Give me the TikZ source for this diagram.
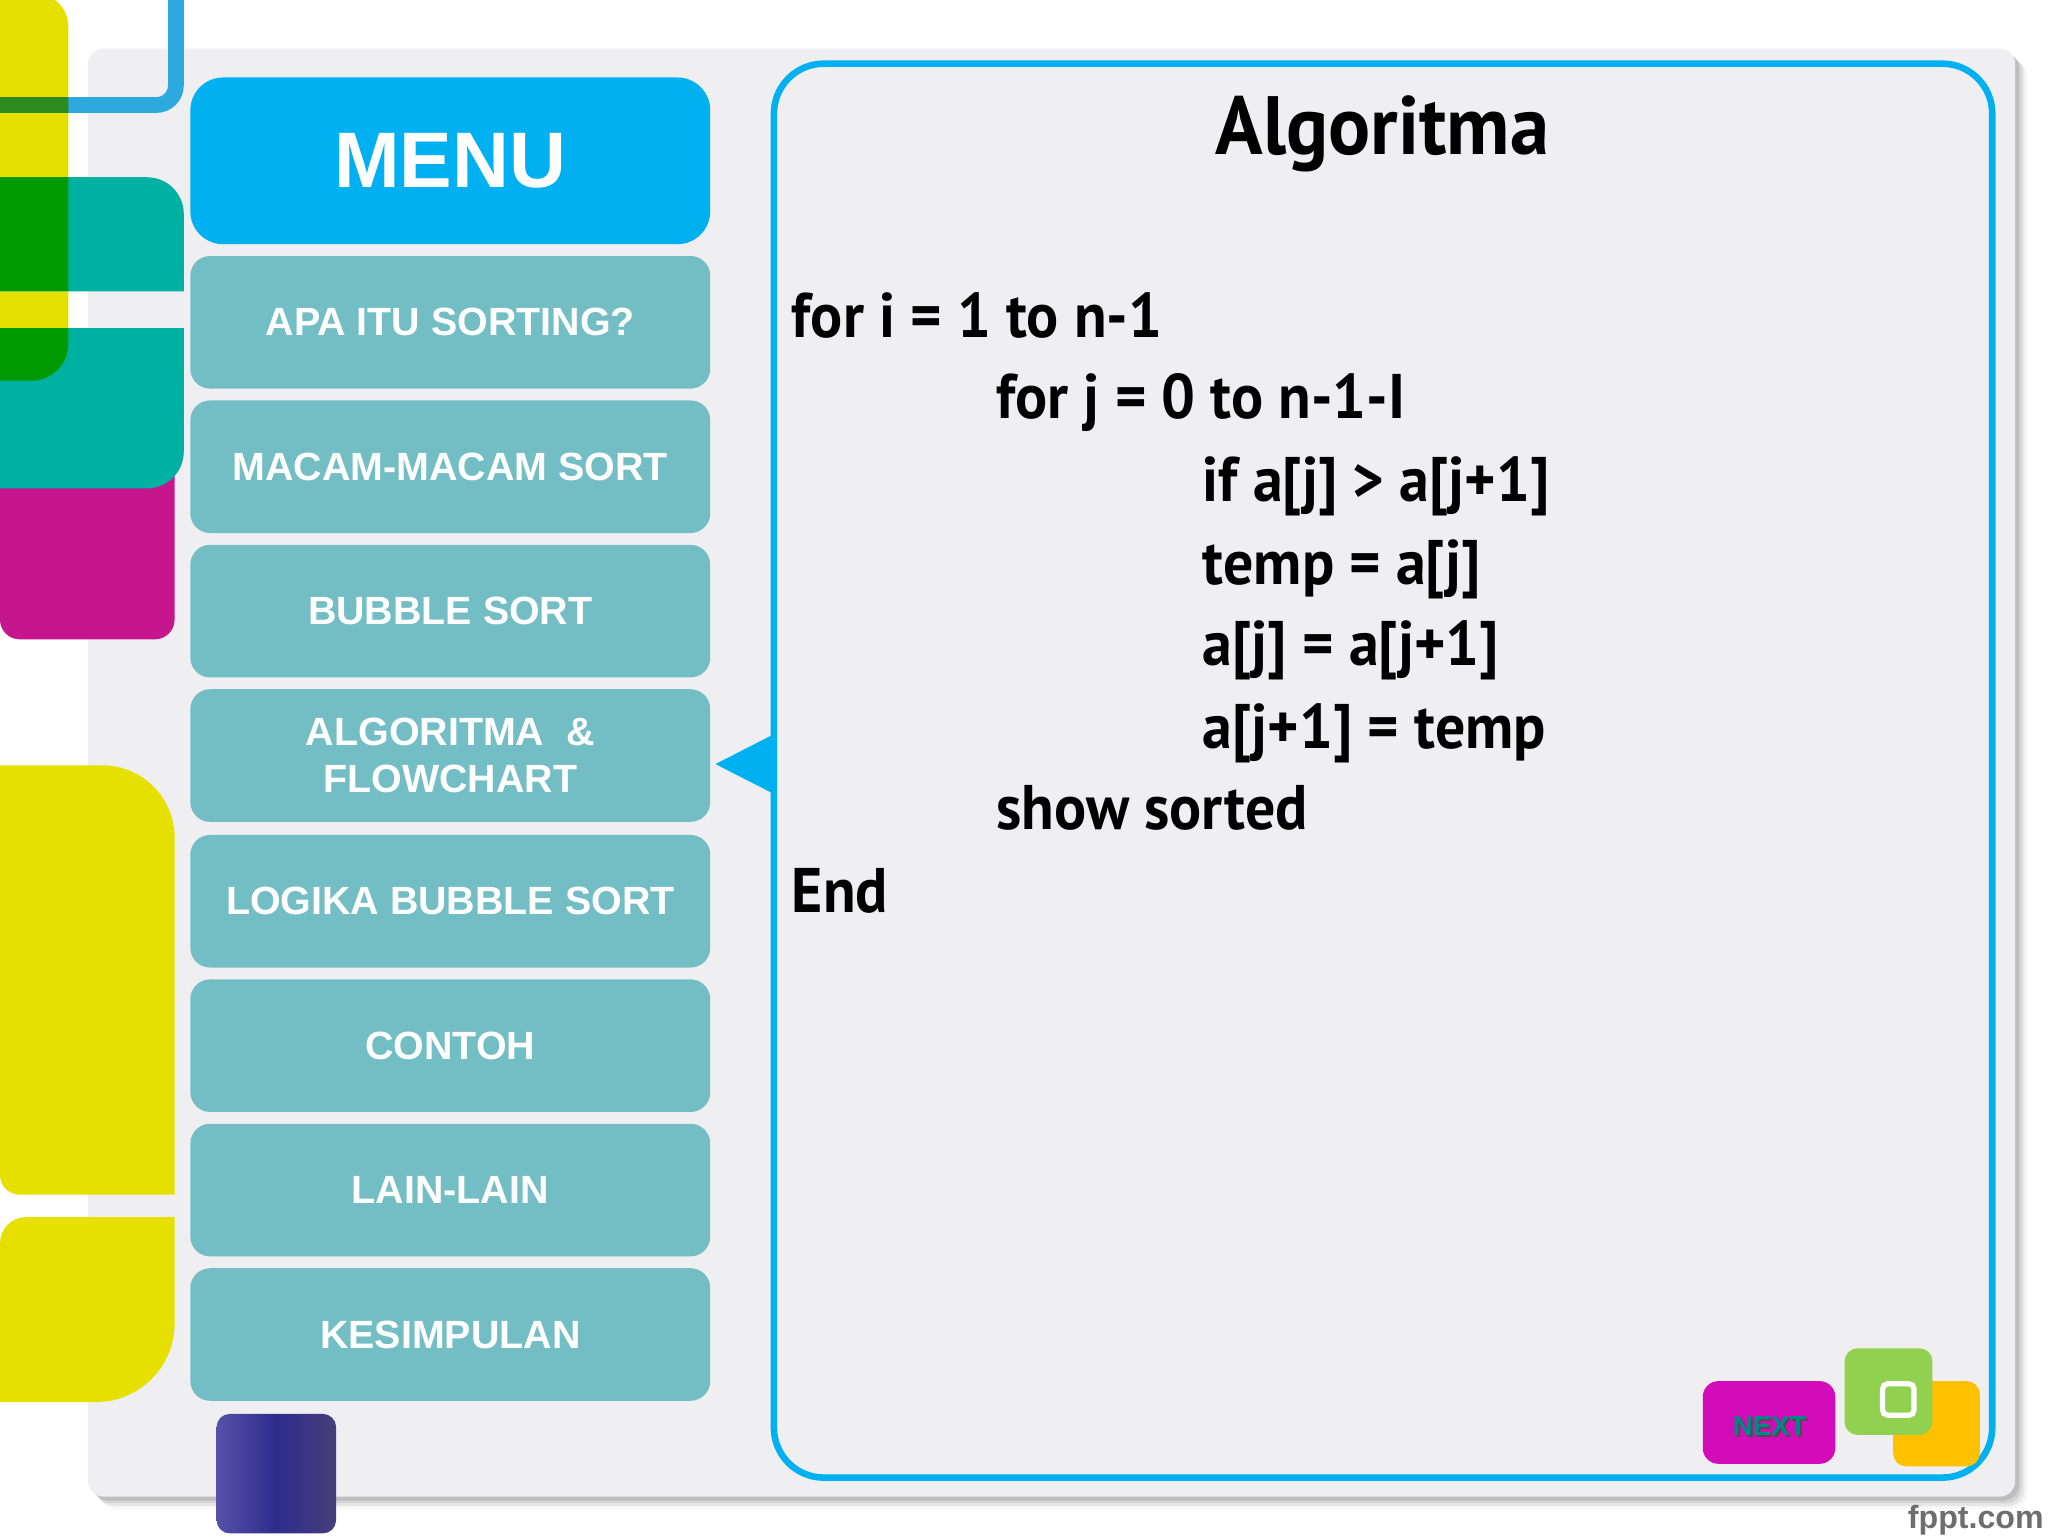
\documentclass[tikz,border=0pt]{standalone}
\usepackage{fontspec}
\setmainfont{Liberation Sans}
\newfontfamily\codefont[FakeStretch=0.95]{PT Sans Bold}
\usetikzlibrary{shapes.geometric}
\definecolor{panelgray}{HTML}{EFEFF1}
\definecolor{menublue}{HTML}{00B0F0}
\definecolor{itemteal}{HTML}{73BEC4}
\definecolor{framecol}{HTML}{2EA9E0}
\definecolor{ylw}{HTML}{E6E000}
\definecolor{dkgreen}{HTML}{009A00}
\definecolor{olivegreen}{HTML}{2E8A1E}
\definecolor{tealblk}{HTML}{00B0A0}
\definecolor{magblk}{HTML}{C5168E}
\definecolor{nextmag}{HTML}{D40BB9}
\definecolor{btngreen}{HTML}{92D050}
\definecolor{btnorange}{HTML}{FFC000}
\definecolor{nexttext}{HTML}{00868B}
\definecolor{purpA}{HTML}{5650A8}
\definecolor{purpB}{HTML}{2E2D8C}
\definecolor{purpC}{HTML}{463F7A}
\definecolor{logogray}{HTML}{6E6E6E}
\begin{document}
\begin{tikzpicture}[x=1pt,y=-1pt,
  menuitem/.style={rounded corners=15pt, fill=itemteal, minimum width=396pt, minimum height=101pt,
    text=white, font=\bfseries\fontsize{30}{36}\selectfont, align=center, inner sep=0pt},
  menuhead/.style={rounded corners=25pt, fill=menublue, minimum width=396pt, minimum height=127pt,
    text=white, font=\bfseries\fontsize{60}{64}\selectfont, inner sep=0pt},
  codeline/.style={anchor=base west, inner sep=0pt, font=\codefont\fontsize{48}{50}\selectfont},
  shadowstep/.style={fill=black, fill opacity=#1, rounded corners=12pt}
]
\useasboundingbox (0,0) rectangle (1560,1170);
\fill[white] (0,0) rectangle (1560,1170);

% ---- main gray panel with shadow ----
\foreach \o/\a in {9/0.04,7/0.06,5/0.08,3/0.10}{
  \fill[shadowstep=\a] (67+\o,37+\o) rectangle (1535+\o,1140+\o);
}
\node[fill=panelgray, rounded corners=12pt, minimum width=1468pt, minimum height=1103pt, inner sep=0pt] (board) at (801,588.5) {};

% ---- top-left decorative blocks ----
\fill[magblk] (0,330) -- (133,330) -- (133,472) arc[start angle=0,end angle=90,radius=15]
  -- (15,487) arc[start angle=90,end angle=180,radius=15] -- cycle;
\fill[ylw] (-5,-5) -- (27,-5) arc[start angle=-90,end angle=0,radius=25]
  -- (52,262) arc[start angle=0,end angle=90,radius=28] -- (-5,290) -- cycle;
\fill[tealblk] (-5,135) -- (112,135) arc[start angle=-90,end angle=0,radius=28] -- (140,222) -- (-5,222) -- cycle;
\fill[tealblk] (-5,250) -- (140,250) -- (140,344) arc[start angle=0,end angle=90,radius=28] -- (-5,372) -- cycle;
\begin{scope}
  \clip (-5,-5) -- (27,-5) arc[start angle=-90,end angle=0,radius=25]
    -- (52,262) arc[start angle=0,end angle=90,radius=28] -- (-5,290) -- cycle;
  \fill[dkgreen] (-5,135) rectangle (60,222);
  \fill[dkgreen] (-5,250) rectangle (60,372);
\end{scope}
\draw[line width=12pt, framecol] (-10,80) -- (119,80) arc[start angle=90,end angle=0,radius=15] -- (134,-10);
\begin{scope}
  \clip (-5,-5) -- (27,-5) arc[start angle=-90,end angle=0,radius=25]
    -- (52,262) arc[start angle=0,end angle=90,radius=28] -- (-5,290) -- cycle;
  \draw[line width=12pt, olivegreen] (-10,80) -- (119,80);
\end{scope}

% ---- bottom-left yellow blocks ----
\fill[ylw] (-5,583) -- (78,583) arc[start angle=-90,end angle=0,radius=55] -- (133,910)
  -- (15,910) arc[start angle=90,end angle=180,radius=15] -- (-5,895) -- cycle;
\fill[ylw] (0,947) arc[start angle=180,end angle=270,radius=20] -- (133,927) -- (133,1008)
  arc[start angle=0,end angle=90,radius=60] -- (-5,1068) -- (-5,947) -- cycle;

% ---- menu ----
\node[menuhead] (menu) at (343,122.5) {MENU};
\node[menuitem] (apa)    at (343,245.5) {APA ITU SORTING?};
\node[menuitem] (macam)  at (343,355.5) {MACAM-MACAM SORT};
\node[menuitem] (bubble) at (343,465.5) {BUBBLE SORT};
\node[menuitem] (algo)   at (343,575.5) {ALGORITMA\ \ \&\\FLOWCHART};
\node[menuitem] (logika) at (343,686.5) {LOGIKA BUBBLE SORT};
\node[menuitem] (contoh) at (343,796.5) {CONTOH};
\node[menuitem] (lain)   at (343,906.5) {LAIN-LAIN};
\node[menuitem] (kesim)  at (343,1016.5) {KESIMPULAN};

% ---- purple square ----
\node[rounded corners=10pt, left color=purpA, right color=purpC, middle color=purpB,
  minimum width=91pt, minimum height=91pt, inner sep=0pt] (purple) at (210.5,1122.5) {};

% ---- content panel ----
\node[draw=menublue, line width=5pt, rounded corners=38pt, fill=panelgray,
  minimum width=928pt, minimum height=1077pt, inner sep=0pt] (content) at (1053.5,587) {};
\coordinate (ptip) at (545,582);
\fill[menublue] (ptip) -- (590,559) -- (590,605) -- cycle;

\node[anchor=base, inner sep=0pt, font=\codefont\fontsize{63}{65}\selectfont] (title) at (1053,118) {Algoritma};
\node[codeline] (l1) at (603,257) {for i = 1 to n-1};
\node[codeline] (l2) at (759,319) {for j = 0 to n-1-I};
\node[codeline] (l3) at (916,382) {if a[j] > a[j+1]};
\node[codeline] (l4) at (916,445) {temp = a[j]};
\node[codeline] (l5) at (916,507) {a[j] = a[j+1]};
\node[codeline] (l6) at (916,570) {a[j+1] = temp};
\node[codeline] (l7) at (759,632) {show sorted};
\node[codeline] (l8) at (603,695) {End};

% ---- buttons ----
\node[fill=btnorange, rounded corners=10pt, minimum width=66pt, minimum height=65pt, inner sep=0pt] (orange) at (1475,1084.5) {};
\node[fill=btngreen, rounded corners=10pt, minimum width=67pt, minimum height=66pt, inner sep=0pt] (green) at (1438.5,1060) {};
\node[draw=white, line width=4pt, rounded corners=4pt, minimum width=24pt, minimum height=24pt, inner sep=0pt] (sq) at (1446,1066) {};
\node[fill=nextmag, rounded corners=12pt, minimum width=101pt, minimum height=63pt, inner sep=0pt] (next) at (1347.5,1083.5) {};
\node[text=black!70, font=\bfseries\fontsize{21}{22}\selectfont, inner sep=0pt] at (1349.5,1087.5) {NEXT};
\node[text=nexttext, font=\bfseries\fontsize{21}{22}\selectfont, inner sep=0pt] (nexttxt) at (1348,1086) {NEXT};

% ---- logo ----
\node[text=logogray, font=\bfseries\fontsize{24.5}{26}\selectfont, inner sep=0pt] (logo) at (1505,1158) {fppt.com};
\end{tikzpicture}
\end{document}
